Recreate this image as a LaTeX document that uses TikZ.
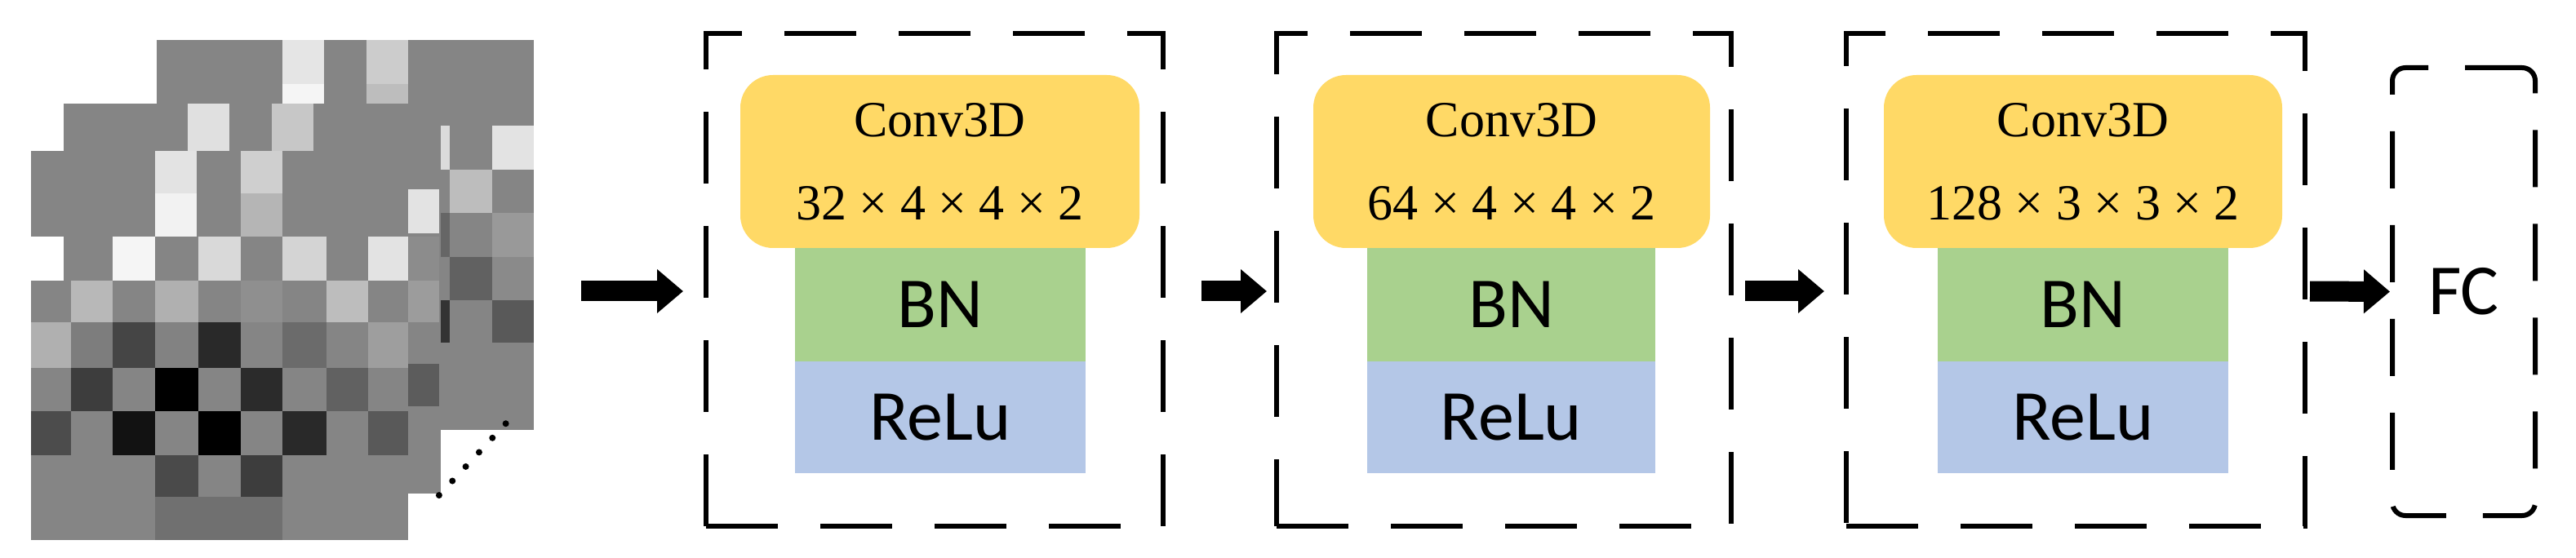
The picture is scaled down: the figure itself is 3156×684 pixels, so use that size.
\documentclass[tikz,border=0pt]{standalone}
\usepackage{fontspec}
\setmainfont{Liberation Serif}
\newfontfamily\calib{Carlito}
\usetikzlibrary{arrows.meta}
\definecolor{convc}{HTML}{FFD966}
\definecolor{bnc}{HTML}{A9D18E}
\definecolor{reluc}{HTML}{B4C7E7}
\newcommand{\pcell}[5]{\fill[black!#5] (#1,#2) rectangle (#3,#4);}
\begin{document}
\begin{tikzpicture}[x=1pt,y=-1pt,
  dbox/.style={draw=black,line width=6pt,dash pattern=on 88pt off 52pt,minimum width=#1,minimum height=604pt,inner sep=0pt},
  conv/.style={fill=convc,rounded corners=40pt,minimum width=#1,minimum height=212pt,inner sep=0pt,align=center,font=\fontsize{62}{102}\selectfont},
  bn/.style={fill=bnc,minimum width=#1,minimum height=139pt,inner sep=0pt,font=\calib\fontsize{88}{88}\selectfont},
  relu/.style={fill=reluc,minimum width=#1,minimum height=137pt,inner sep=0pt,font=\calib\fontsize{88}{88}\selectfont},
  arr/.style={line width=25pt,-{Triangle[length=32pt,width=52pt]}}]
\useasboundingbox (0,0) rectangle (3156,684);
% ---- input image (pixel stack)
\begin{scope}[scale=0.4464]
\pcell{430}{110}{1465}{1180}{48}
\pcell{175}{285}{1210}{1355}{48}
\pcell{85}{415}{1120}{650}{48}
\pcell{195}{650}{1120}{770}{48}
\pcell{85}{770}{1120}{1482}{48}
\pcell{775}{110}{890}{230}{10}\pcell{775}{230}{890}{285}{4}
\pcell{1005}{110}{1120}{230}{20}\pcell{1005}{230}{1120}{285}{26}
\pcell{515}{285}{630}{415}{12}\pcell{745}{285}{860}{415}{22}
\pcell{1210}{345}{1235}{465}{14}\pcell{1350}{345}{1465}{465}{11}
\pcell{1235}{465}{1350}{585}{26}\pcell{1120}{520}{1205}{640}{11}
\pcell{1210}{585}{1235}{705}{60}\pcell{1350}{585}{1465}{705}{40}
\pcell{1235}{705}{1350}{825}{62}\pcell{1350}{705}{1465}{825}{46}
\pcell{1210}{825}{1235}{940}{80}\pcell{1350}{825}{1465}{940}{65}
\pcell{425}{415}{540}{530}{11}\pcell{425}{530}{540}{650}{5}
\pcell{660}{415}{775}{530}{19}\pcell{660}{530}{775}{650}{29}
\pcell{310}{650}{425}{770}{4}\pcell{545}{650}{660}{770}{15}
\pcell{775}{650}{895}{770}{17}\pcell{1010}{650}{1120}{770}{11}
\pcell{1120}{650}{1205}{770}{45}
% row 770-885
\pcell{195}{770}{310}{885}{28}\pcell{425}{770}{545}{885}{31}
\pcell{660}{770}{775}{885}{44}\pcell{895}{770}{1010}{885}{26}
\pcell{1120}{770}{1205}{885}{39}
% row 885-1010
\pcell{85}{885}{195}{1010}{31}\pcell{195}{885}{310}{1010}{51}
\pcell{310}{885}{425}{1010}{73}\pcell{425}{885}{545}{1010}{49}
\pcell{545}{885}{660}{1010}{84}\pcell{775}{885}{895}{1010}{58}
\pcell{1010}{885}{1120}{1010}{38}
% row 1010-1130
\pcell{195}{1010}{310}{1130}{76}\pcell{425}{1010}{545}{1130}{100}
\pcell{660}{1010}{775}{1130}{83}\pcell{895}{1010}{1010}{1130}{62}
\pcell{1120}{1000}{1205}{1115}{64}
% row 1130-1250
\pcell{85}{1130}{195}{1250}{70}\pcell{310}{1130}{425}{1250}{93}
\pcell{545}{1130}{660}{1250}{100}\pcell{775}{1130}{895}{1250}{84}
\pcell{1010}{1130}{1120}{1250}{65}
% row 1250-1482
\pcell{425}{1250}{545}{1365}{71}\pcell{660}{1250}{775}{1365}{76}
\pcell{425}{1365}{775}{1482}{56}
\draw[line width=8pt,line cap=round,dash pattern=on 0pt off 24pt] (1205,1360) -- (1405,1145);
\end{scope}
\coordinate (img) at (712,357);
% ---- blocks
\node[dbox=560pt] (b1) at (1145,343) {};
\node[dbox=557pt] (b2) at (1842.5,343) {};
\node[dbox=562pt] (b3) at (2543,343) {};
\node[dbox=175pt,minimum height=549pt,rounded corners=16pt,font=\calib\fontsize{88}{88}\selectfont,dash pattern=on 70pt off 45pt] (fc) at (3018.5,357.5) {FC};
\node[conv=489pt] (c1) at (1151.5,198) {Conv3D\\32 × 4 × 4 × 2};
\node[conv=486pt] (c2) at (1852,198) {Conv3D\\64 × 4 × 4 × 2};
\node[conv=488pt] (c3) at (2552,198) {Conv3D\\128 × 3 × 3 × 2};
\node[bn=356pt] (n1) at (1152,373.5) {BN};
\node[bn=353pt] (n2) at (1851.5,373.5) {BN};
\node[bn=356pt] (n3) at (2552,373.5) {BN};
\node[relu=356pt] (r1) at (1152,511.5) {ReLu};
\node[relu=353pt] (r2) at (1851.5,511.5) {ReLu};
\node[relu=356pt] (r3) at (2552,511.5) {ReLu};
% ---- arrows
\draw[arr,shorten >=25pt] (img) -- ([yshift=-14pt]b1.west);
\draw[arr,shorten <=44pt,shorten >=9pt] ([yshift=-14pt]b1.east) -- ([yshift=-14pt]b2.west);
\draw[arr,shorten <=14pt,shorten >=24pt] ([yshift=-14pt]b2.east) -- ([yshift=-14pt]b3.west);
\draw[arr,shorten <=3pt] ([yshift=-14pt]b3.east) -- (fc.west);
\end{tikzpicture}
\end{document}
